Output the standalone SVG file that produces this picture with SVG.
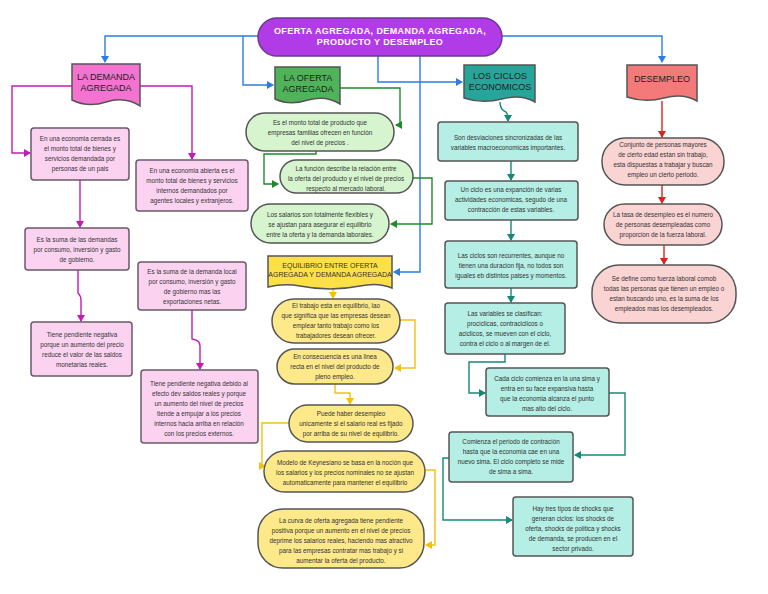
<svg xmlns="http://www.w3.org/2000/svg" width="768" height="594" viewBox="0 0 768 594">
<defs>
<style>
text{font-family:"Liberation Sans",Arial,sans-serif;fill:#333;text-anchor:middle}
.b{font-size:6.3px}
.h{font-size:9px;fill:#222}
.pk{fill:#fbd3f1;stroke:#6a5a6a;stroke-width:1.5}
.gr{fill:#d6f5cf;stroke:#555;stroke-width:1.5}
.yl{fill:#fde98a;stroke:#555;stroke-width:1.5}
.tl{fill:#b5eee4;stroke:#555;stroke-width:1.5}
.rd{fill:#fad3d3;stroke:#555;stroke-width:1.5}
.c{fill:none;stroke-width:1.4}
</style>
<marker id="mb" markerWidth="8" markerHeight="8" refX="6" refY="4" orient="auto" markerUnits="userSpaceOnUse"><path d="M0,0L7,4L0,8z" fill="#2a7de1"/></marker>
<marker id="mm" markerWidth="8" markerHeight="8" refX="6" refY="4" orient="auto" markerUnits="userSpaceOnUse"><path d="M0,0L7,4L0,8z" fill="#c21bb8"/></marker>
<marker id="mg" markerWidth="8" markerHeight="8" refX="6" refY="4" orient="auto" markerUnits="userSpaceOnUse"><path d="M0,0L7,4L0,8z" fill="#1e8a2a"/></marker>
<marker id="my" markerWidth="8" markerHeight="8" refX="6" refY="4" orient="auto" markerUnits="userSpaceOnUse"><path d="M0,0L7,4L0,8z" fill="#f2c10f"/></marker>
<marker id="mt" markerWidth="8" markerHeight="8" refX="6" refY="4" orient="auto" markerUnits="userSpaceOnUse"><path d="M0,0L7,4L0,8z" fill="#138a78"/></marker>
<marker id="mr" markerWidth="8" markerHeight="8" refX="6" refY="4" orient="auto" markerUnits="userSpaceOnUse"><path d="M0,0L7,4L0,8z" fill="#e02020"/></marker>
</defs>
<rect width="768" height="594" fill="#fff"/>
<g id="connectors">
<path class="c" stroke="#2a7de1" marker-end="url(#mb)" d="M258,36H105V62"/>
<path class="c" stroke="#2a7de1" marker-end="url(#mb)" d="M243,36V85H273"/>
<path class="c" stroke="#2a7de1" marker-end="url(#mb)" d="M378,56V82H462"/>
<path class="c" stroke="#2a7de1" marker-end="url(#mb)" d="M502,36H662V62"/>
<path class="c" stroke="#2a7de1" marker-end="url(#mb)" d="M420,56V272H394"/>
<path class="c" stroke="#c21bb8" marker-end="url(#mm)" d="M72,86H12V153H30"/>
<path class="c" stroke="#c21bb8" marker-end="url(#mm)" d="M140,86H192V159"/>
<path class="c" stroke="#c21bb8" marker-end="url(#mm)" d="M80,180V227"/>
<path class="c" stroke="#c21bb8" marker-end="url(#mm)" d="M78,270V293Q81,296 81,300V321"/>
<path class="c" stroke="#c21bb8" marker-end="url(#mm)" d="M192,310V339Q200,340 200,346V369"/>
<path class="c" stroke="#1e8a2a" marker-end="url(#mg)" d="M340,88H400V125H396"/>
<path class="c" stroke="#1e8a2a" marker-end="url(#mg)" d="M316,151V154H264V184H278"/>
<path class="c" stroke="#1e8a2a" marker-end="url(#mg)" d="M413,178H432V224H391"/>
<path class="c" stroke="#f2c10f" marker-end="url(#my)" d="M333,288V298"/>
<path class="c" stroke="#f2c10f" marker-end="url(#my)" d="M400,320H415V368H395"/>
<path class="c" stroke="#f2c10f" marker-end="url(#my)" d="M335,384V393H350V404"/>
<path class="c" stroke="#f2c10f" marker-end="url(#my)" d="M289,423H262V466H265"/>
<path class="c" stroke="#f2c10f" marker-end="url(#my)" d="M425,470H435V545H426"/>
<path class="c" stroke="#138a78" marker-end="url(#mt)" d="M500,102Q500,110 506,112Q508,114 508,121"/>
<path class="c" stroke="#138a78" marker-end="url(#mt)" d="M511,161V180"/>
<path class="c" stroke="#138a78" marker-end="url(#mt)" d="M511,220V240"/>
<path class="c" stroke="#138a78" marker-end="url(#mt)" d="M511,288V302"/>
<path class="c" stroke="#138a78" marker-end="url(#mt)" d="M505,354V362H469V393H485"/>
<path class="c" stroke="#138a78" marker-end="url(#mt)" d="M609,393H625V455H575"/>
<path class="c" stroke="#138a78" marker-end="url(#mt)" d="M449,458H443V520H512"/>
<path class="c" stroke="#e02020" marker-end="url(#mr)" d="M662,101V137"/>
<path class="c" stroke="#e02020" marker-end="url(#mr)" d="M662,185V203"/>
<path class="c" stroke="#e02020" marker-end="url(#mr)" d="M664,245V264"/>
</g>
<g id="title">
<rect x="258" y="18" width="244" height="38" rx="19" fill="#b23be8" stroke="#6a3a8a" stroke-width="1.5"/>
<text x="380" y="34" style="font-size:9px;font-weight:bold;fill:#fff;letter-spacing:0.4px">OFERTA AGREGADA, DEMANDA AGREGADA,</text>
<text x="380" y="45" style="font-size:9px;font-weight:bold;fill:#fff;letter-spacing:0.4px">PRODUCTO Y DESEMPLEO</text>
</g>
<g id="demanda">
<path d="M72,64H140V106Q125,96 106,102Q88,108 72,100Z" fill="#f472d0" stroke="#555" stroke-width="1.5"/>
<text class="h" x="106" y="80">LA DEMANDA</text><text class="h" x="106" y="91">AGREGADA</text>
</g>
<g id="d1"><rect class="pk" x="31" y="128" width="98" height="52" rx="3"/>
<text class="b" x="80" y="141">En una economia cerrada es</text><text class="b" x="80" y="151">el monto total de bienes y</text><text class="b" x="80" y="161">servicios demandada por</text><text class="b" x="80" y="171">personas de un pais</text></g>
<g id="d2"><rect class="pk" x="25" y="228" width="104" height="42" rx="3"/>
<text class="b" x="77" y="242">Es la suma de las demandas</text><text class="b" x="77" y="252">por consumo, inversión y gasto</text><text class="b" x="77" y="262">de gobierno.</text></g>
<g id="d3"><rect class="pk" x="31" y="322" width="101" height="54" rx="3"/>
<text class="b" x="82" y="337">Tiene pendiente negativa</text><text class="b" x="82" y="347">porque un aumento del precio</text><text class="b" x="82" y="357">reduce el valor de las saldos</text><text class="b" x="82" y="367">monetarias reales.</text></g>
<g id="d4"><rect class="pk" x="136" y="160" width="112" height="51" rx="3"/>
<text class="b" x="192" y="173">En una economia abierta es el</text><text class="b" x="192" y="183">monto total de bienes y servicios</text><text class="b" x="192" y="193">internos demandados por</text><text class="b" x="192" y="203">agentes locales y extranjeros.</text></g>
<g id="d5"><rect class="pk" x="138" y="262" width="108" height="48" rx="3"/>
<text class="b" x="192" y="274">Es la suma de la demanda local</text><text class="b" x="192" y="284">por consumo, inversión y gasto</text><text class="b" x="192" y="294">de gobierno mas las</text><text class="b" x="192" y="304">exportaciones netas.</text></g>
<g id="d6"><rect class="pk" x="141" y="370" width="117" height="73" rx="3"/>
<text class="b" x="199" y="386">Tiene pendiente negativa debido al</text><text class="b" x="199" y="396">efecto dev saldos reales y porque</text><text class="b" x="199" y="406">un aumento del nivel de precios</text><text class="b" x="199" y="416">tiende a empujar a los precios</text><text class="b" x="199" y="426">internos hacia arriba en relación</text><text class="b" x="199" y="436">con los precios externos.</text></g>
<g id="oferta">
<path d="M275,67H340V104Q326,95 308,100Q290,106 275,99Z" fill="#4fb35a" stroke="#555" stroke-width="1.5"/>
<text class="h" x="308" y="81">LA OFERTA</text><text class="h" x="308" y="92">AGREGADA</text>
</g>
<g id="o1"><rect class="gr" x="246" y="113" width="148" height="38" rx="19"/>
<text class="b" x="320" y="125">Es el  monto total  de producto que</text><text class="b" x="320" y="135">empresas  familias  ofrecen en función</text><text class="b" x="320" y="145">del nivel de precios .</text></g>
<g id="o2"><rect class="gr" x="280" y="160" width="133" height="33" rx="16.5"/>
<text class="b" x="346" y="171">La función  describe la relación entre</text><text class="b" x="346" y="181">la oferta del producto y el nivel de precios</text><text class="b" x="346" y="191">respecto al mercado laboral.</text></g>
<g id="o3"><rect class="gr" x="251" y="204" width="138" height="39" rx="19.5"/>
<text class="b" x="320" y="217">Los salarios son totalmente flexibles y</text><text class="b" x="320" y="227">se ajustan para asegurar el equilibrio</text><text class="b" x="320" y="237">entre la oferta y la demanda laborales.</text></g>
<g id="equilibrio">
<path d="M268,256H392V288Q378,282 360,286Q330,292 300,286Q284,283 268,287Z" fill="#fde047" stroke="#555" stroke-width="1.5"/>
<text class="b" x="330" y="268" style="font-size:7px">EQUILIBRIO ENTRE OFERTA</text><text class="b" x="330" y="277" style="font-size:7px">AGREGADA Y DEMANDA AGREGADA</text>
</g>
<g id="e1"><rect class="yl" x="272" y="299" width="128" height="44" rx="22"/>
<text class="b" x="336" y="308">El trabajo esta en equilibrio, lao</text><text class="b" x="336" y="318">que significa que las empresas desean</text><text class="b" x="336" y="328">emplear tanto trabajo como los</text><text class="b" x="336" y="338">trabajadores desean ofrecer.</text></g>
<g id="e2"><rect class="yl" x="277" y="349" width="116" height="35" rx="17.5"/>
<text class="b" x="335" y="359">En consecuencia es una linea</text><text class="b" x="335" y="369">recta en el nivel del producto de</text><text class="b" x="335" y="379">pleno empleo.</text></g>
<g id="e3"><rect class="yl" x="289" y="405" width="124" height="37" rx="18.5"/>
<text class="b" x="351" y="416">Puede haber desempleo</text><text class="b" x="351" y="426">unicamente si el salario real es fijado</text><text class="b" x="351" y="436">por arriba de su nivel de equilibrio.</text></g>
<g id="e4"><rect class="yl" x="264" y="451" width="161" height="41" rx="20.5"/>
<text class="b" x="345" y="465">Modelo de Keynesiano se basa en la noción que</text><text class="b" x="345" y="475">los salarios y los precios nominales no se ajustan</text><text class="b" x="345" y="485">automaticamente para mantener el equilibrio</text></g>
<g id="e5"><rect class="yl" x="258" y="509" width="166" height="59" rx="25"/>
<text class="b" x="341" y="523">La curva de oferta agregada tiene pendiente</text><text class="b" x="341" y="533">positiva porque un aumento en el nivel de precios</text><text class="b" x="341" y="543">deprime los salarios reales, haciendo mas atractivo</text><text class="b" x="341" y="553">para las empresas contratar mas trabajo y si</text><text class="b" x="341" y="563">aumentar la oferta del producto.</text></g>
<g id="ciclos">
<path d="M464,65H535V102Q521,94 502,99Q482,104 464,98Z" fill="#26a69a" stroke="#555" stroke-width="1.5"/>
<text class="h" x="500" y="79">LOS CICLOS</text><text class="h" x="500" y="90">ECONOMICOS</text>
</g>
<g id="c1"><rect class="tl" x="438" y="122" width="140" height="39" rx="3"/>
<text class="b" x="508" y="140">Son desviaciones sincronizadas de las</text><text class="b" x="508" y="150">variables macroeconomicas importantes.</text></g>
<g id="c2"><rect class="tl" x="445" y="181" width="133" height="39" rx="3"/>
<text class="b" x="511" y="192">Un ciclo es una expanción de varias</text><text class="b" x="511" y="202">actividades economicas, segudo de una</text><text class="b" x="511" y="212">contracción de estas variables.</text></g>
<g id="c3"><rect class="tl" x="445" y="241" width="132" height="47" rx="3"/>
<text class="b" x="511" y="258">Las ciclos son recurrentes, aunque no</text><text class="b" x="511" y="268">tienen una duracion fija, no todos son</text><text class="b" x="511" y="278">iguales eb distintos paises y momentos.</text></g>
<g id="c4"><rect class="tl" x="445" y="303" width="120" height="51" rx="3"/>
<text class="b" x="505" y="316">Las variables se clasifican:</text><text class="b" x="505" y="326">prociclicas, contraciclicos o</text><text class="b" x="505" y="336">aciclicos, se mueven con el ciclo,</text><text class="b" x="505" y="346">contra el ciclo o al margen de el.</text></g>
<g id="c5"><rect class="tl" x="486" y="368" width="123" height="48" rx="3"/>
<text class="b" x="547" y="381">Cada ciclo comienza en la una sima y</text><text class="b" x="547" y="391">entra en su face expansiva hasta</text><text class="b" x="547" y="401">que la economia alcanza el punto</text><text class="b" x="547" y="411">mas alto del ciclo.</text></g>
<g id="c6"><rect class="tl" x="449" y="432" width="124" height="50" rx="3"/>
<text class="b" x="511" y="444">Comienza el periodo de contración</text><text class="b" x="511" y="454">hasta que la economia cae en una</text><text class="b" x="511" y="464">nuevo sima. El ciclo completo se mide</text><text class="b" x="511" y="474">de sima a sima.</text></g>
<g id="c7"><rect class="tl" x="513" y="497" width="120" height="59" rx="3"/>
<text class="b" x="573" y="511">Hay tres tipos de shocks que</text><text class="b" x="573" y="521">generan ciclos: los shocks de</text><text class="b" x="573" y="531">oferta, shocks de politica y  shocks</text><text class="b" x="573" y="541">de demanda, se producen en el</text><text class="b" x="573" y="551">sector privado.</text></g>
<g id="desempleo">
<path d="M627,65H697V101Q683,93 664,98Q645,103 627,97Z" fill="#f47a7a" stroke="#555" stroke-width="1.5"/>
<text class="h" x="662" y="82">DESEMPLEO</text>
</g>
<g id="s1"><rect class="rd" x="602" y="138" width="122" height="47" rx="23"/>
<text class="b" x="663" y="147">Conjunto de personas  mayores</text><text class="b" x="663" y="157">de cierto edad estan sin trabajo,</text><text class="b" x="663" y="167">esta dispuestas a trabajar y buscan</text><text class="b" x="663" y="177">empleo un cierto periodo.</text></g>
<g id="s2"><rect class="rd" x="604" y="204" width="118" height="41" rx="20.5"/>
<text class="b" x="663" y="217">La tasa de desempleo es el numero</text><text class="b" x="663" y="227">de personas desempleadas como</text><text class="b" x="663" y="237">proporcion de la fuerza laboral.</text></g>
<g id="s3"><rect class="rd" x="592" y="265" width="144" height="58" rx="27"/>
<text class="b" x="664" y="281">Se define como fuerza laboral comob</text><text class="b" x="664" y="291">todas las personas que tienen un empleo o</text><text class="b" x="664" y="301">estan buscando uno, es la suma de los</text><text class="b" x="664" y="311">empleados mas los desempleados.</text></g>
</svg>
